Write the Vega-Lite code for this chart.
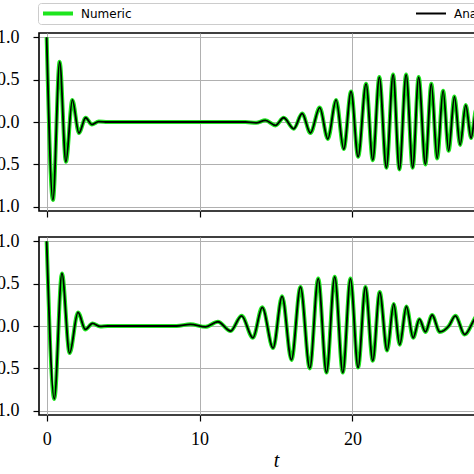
{
  "$schema": "https://vega.github.io/schema/vega-lite/v6.json",
  "padding": {"left": -15, "top": 2, "right": 0, "bottom": 0},
  "background": "white",
  "spacing": 26,
  "bounds": "flush",
  "datasets": {
    "top": [
      {"t": 0, "y": 1.0}, {"t": 0.41, "y": -0.92}, {"t": 0.85, "y": 0.71}, {"t": 1.26, "y": -0.47},
      {"t": 1.68, "y": 0.26}, {"t": 2.11, "y": -0.13}, {"t": 2.55, "y": 0.05}, {"t": 2.96, "y": -0.03},
      {"t": 3.4, "y": 0.005}, {"t": 4.0, "y": 0}, {"t": 8.0, "y": 0}, {"t": 13.0, "y": 0},
      {"t": 13.7, "y": -0.01}, {"t": 14.3, "y": 0.02}, {"t": 14.97, "y": -0.04}, {"t": 15.5, "y": 0.05},
      {"t": 16.16, "y": -0.08}, {"t": 16.71, "y": 0.10}, {"t": 17.25, "y": -0.13}, {"t": 17.86, "y": 0.17},
      {"t": 18.39, "y": -0.20}, {"t": 18.93, "y": 0.26}, {"t": 19.43, "y": -0.32}, {"t": 19.91, "y": 0.36},
      {"t": 20.37, "y": -0.41}, {"t": 20.89, "y": 0.45}, {"t": 21.33, "y": -0.45}, {"t": 21.76, "y": 0.53},
      {"t": 22.22, "y": -0.54}, {"t": 22.66, "y": 0.56}, {"t": 23.07, "y": -0.56}, {"t": 23.51, "y": 0.56},
      {"t": 23.94, "y": -0.54}, {"t": 24.33, "y": 0.53}, {"t": 24.77, "y": -0.50}, {"t": 25.16, "y": 0.45},
      {"t": 25.54, "y": -0.43}, {"t": 25.93, "y": 0.37}, {"t": 26.29, "y": -0.34}, {"t": 26.67, "y": 0.30},
      {"t": 27.04, "y": -0.27}, {"t": 27.41, "y": 0.20}, {"t": 27.76, "y": -0.19}, {"t": 28.1, "y": 0.15},
      {"t": 28.45, "y": -0.13}
    ],
    "bottom": [
      {"t": 0, "y": 1.0}, {"t": 0.5, "y": -0.86}, {"t": 1.0, "y": 0.62}, {"t": 1.5, "y": -0.32},
      {"t": 2.05, "y": 0.16}, {"t": 2.53, "y": -0.04}, {"t": 3.0, "y": 0.03}, {"t": 3.5, "y": -0.005},
      {"t": 4.0, "y": 0}, {"t": 8.5, "y": 0}, {"t": 9.4, "y": 0.02}, {"t": 10.4, "y": -0.01},
      {"t": 11.2, "y": 0.05}, {"t": 12.03, "y": -0.06}, {"t": 12.75, "y": 0.12}, {"t": 13.49, "y": -0.14},
      {"t": 14.1, "y": 0.22}, {"t": 14.81, "y": -0.26}, {"t": 15.4, "y": 0.35}, {"t": 16.01, "y": -0.40},
      {"t": 16.6, "y": 0.46}, {"t": 17.21, "y": -0.50}, {"t": 17.76, "y": 0.56}, {"t": 18.3, "y": -0.55},
      {"t": 18.84, "y": 0.58}, {"t": 19.37, "y": -0.55}, {"t": 19.87, "y": 0.56}, {"t": 20.37, "y": -0.49},
      {"t": 20.85, "y": 0.46}, {"t": 21.33, "y": -0.41}, {"t": 21.78, "y": 0.40}, {"t": 22.27, "y": -0.29},
      {"t": 22.7, "y": 0.26}, {"t": 23.09, "y": -0.22}, {"t": 23.53, "y": 0.23}, {"t": 23.97, "y": -0.14},
      {"t": 24.38, "y": 0.08}, {"t": 24.77, "y": -0.07}, {"t": 25.21, "y": 0.13}, {"t": 25.71, "y": -0.07},
      {"t": 26.3, "y": 0.0}, {"t": 26.73, "y": 0.12}, {"t": 27.34, "y": -0.10}, {"t": 28.2, "y": 0.12},
      {"t": 28.7, "y": -0.08}
    ]
  },
  "config": {
    "view": {"stroke": "black", "strokeWidth": 1.6},
    "axis": {
      "grid": true, "gridColor": "#b0b0b0", "gridWidth": 1, "domain": false,
      "tickColor": "black", "tickSize": 6, "tickWidth": 1.2,
      "labelFont": "Liberation Serif", "labelFontSize": 18, "labelColor": "black",
      "titleFont": "Liberation Serif", "titleFontStyle": "italic", "titleFontWeight": "normal",
      "titleFontSize": 20, "titleColor": "black"
    },
    "legend": {
      "labelFont": "DejaVu Sans", "labelFontSize": 12, "labelColor": "black",
      "symbolType": "stroke", "symbolSize": 900, "labelOffset": 6, "clipHeight": 15,
      "strokeColor": "#cccccc", "fillColor": "white", "cornerRadius": 3, "padding": 3
    }
  },
  "vconcat": [
    {
      "width": 474, "height": 178,
      "data": {"name": "top"},
      "encoding": {
        "x": {"field": "t", "type": "quantitative", "scale": {"domain": [-0.5, 30.5], "nice": false, "zero": false},
              "axis": {"values": [0, 10, 20], "labels": false, "title": null}},
        "y": {"field": "y", "type": "quantitative", "scale": {"domain": [-1.05, 1.05], "nice": false},
              "axis": {"values": [-1, -0.5, 0, 0.5, 1], "format": ".1f", "title": null, "labelPadding": 14}}
      },
      "layer": [
        {"mark": {"type": "line", "interpolate": "monotone"},
         "encoding": {
           "color": {"datum": "Numeric", "type": "nominal", "scale": {"domain": ["Numeric", "Analytic"], "range": ["#1de51d", "#000000"]},
                     "legend": {"orient": "none", "legendX": -1, "legendY": -30, "columns": 2, "columnPadding": 282, "title": null}},
           "strokeWidth": {"datum": "Numeric", "type": "nominal", "scale": {"domain": ["Numeric", "Analytic"], "range": [4, 1.8]},
                     "legend": {"orient": "none", "legendX": -1, "legendY": -30, "columns": 2, "columnPadding": 282, "title": null}}
         }},
        {"mark": {"type": "line", "interpolate": "monotone"},
         "encoding": {
           "color": {"datum": "Analytic", "type": "nominal"},
           "strokeWidth": {"datum": "Analytic", "type": "nominal"}
         }}
      ]
    },
    {
      "width": 474, "height": 178,
      "data": {"name": "bottom"},
      "encoding": {
        "x": {"field": "t", "type": "quantitative", "scale": {"domain": [-0.5, 30.5], "nice": false, "zero": false},
              "axis": {"values": [0, 10, 20], "title": "t", "labelPadding": 9, "titlePadding": 2}},
        "y": {"field": "y", "type": "quantitative", "scale": {"domain": [-1.05, 1.05], "nice": false},
              "axis": {"values": [-1, -0.5, 0, 0.5, 1], "format": ".1f", "title": null, "labelPadding": 14}}
      },
      "layer": [
        {"mark": {"type": "line", "interpolate": "monotone"},
         "encoding": {
           "color": {"datum": "Numeric", "type": "nominal"},
           "strokeWidth": {"datum": "Numeric", "type": "nominal"}
         }},
        {"mark": {"type": "line", "interpolate": "monotone"},
         "encoding": {
           "color": {"datum": "Analytic", "type": "nominal"},
           "strokeWidth": {"datum": "Analytic", "type": "nominal"}
         }}
      ]
    }
  ]
}
